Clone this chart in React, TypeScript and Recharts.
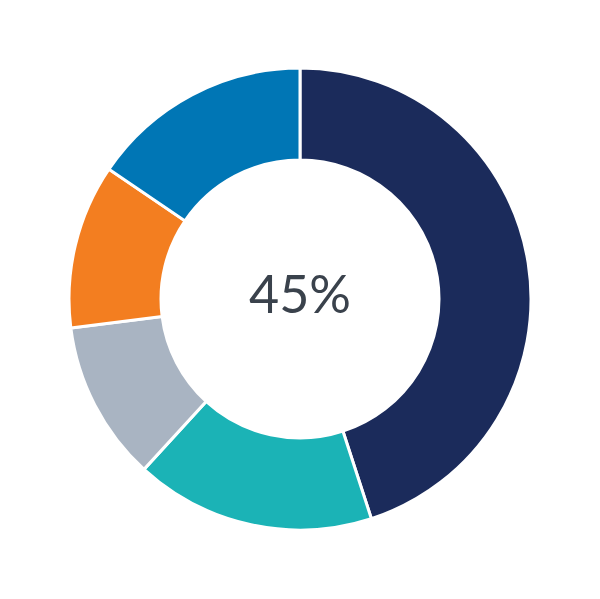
import { PieChart, Pie, Cell, Label } from 'recharts'

const segments = ['Navy', 'Teal', 'Gray', 'Orange', 'Blue']
const shares = [45, 16.8, 11.2, 11.5, 15.5]
const colors = ['#1B2B5B', '#1BB3B6', '#A9B4C2', '#F37E20', '#0076B5']
const centerLabel = '45%'

export default function App() {
  const data = segments.map((name, i) => ({ name, value: shares[i] }))

  return (
    <div style={{ position: 'absolute', left: 0, top: 0, width: 600, height: 599, background: '#fff' }}>
      <PieChart width={600} height={599} margin={{ top: 0, right: 0, bottom: 0, left: 0 }}>
        <Pie
          data={data}
          dataKey="value"
          cx={300}
          cy={299}
          innerRadius={139}
          outerRadius={231}
          startAngle={90}
          endAngle={-270}
          stroke="#fff"
          strokeWidth={3}
          isAnimationActive={false}
        >
          {data.map((d, i) => (
            <Cell key={d.name} fill={colors[i]} />
          ))}
          <Label
            value={centerLabel}
            position="center"
            fill="#3A424C"
            dy={-5}
            style={{ fontFamily: 'Lato, sans-serif', fontSize: 52 }}
          />
        </Pie>
      </PieChart>
    </div>
  )
}
